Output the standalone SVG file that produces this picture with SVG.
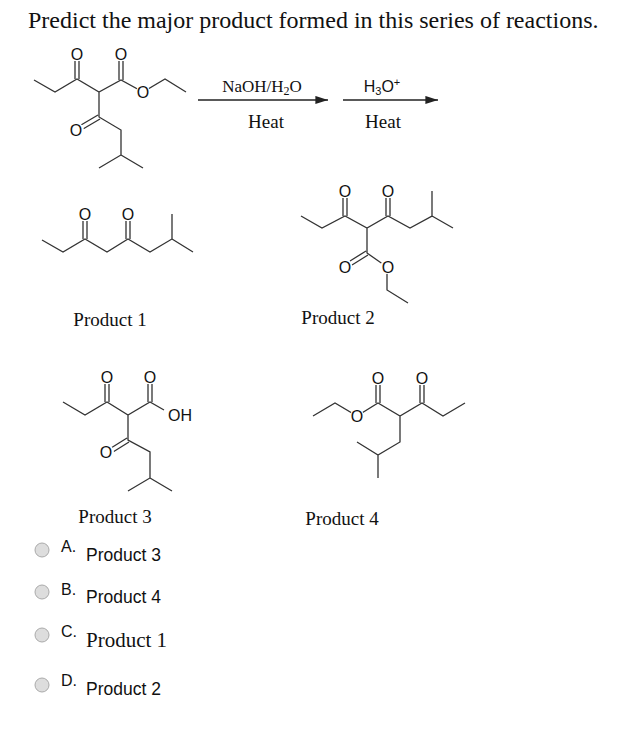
<svg xmlns="http://www.w3.org/2000/svg" width="642" height="734" viewBox="0 0 642 734">
<style>
.b{stroke:#333;stroke-width:1.3;fill:none}
.o{fill:#fff}
.a{font-family:"Liberation Sans",Arial,sans-serif;font-size:16px;fill:#111;text-anchor:middle}
.s{font-family:"Liberation Serif","Times New Roman",serif;fill:#111}
.r{font-family:"Liberation Sans",Arial,sans-serif;fill:#111}
.rad{fill:#ddd;stroke:#aaa;stroke-width:1}
</style>
<defs><marker id="ah" viewBox="0 0 14 10" refX="14" refY="5" markerWidth="14" markerHeight="9" orient="auto" markerUnits="userSpaceOnUse"><path d="M0,0.5 L14,5 L0,9.5 z" fill="#222"/></marker></defs>
<rect width="642" height="734" fill="#fff"/>
<text class="s" x="28" y="28" font-size="24">Predict the major product formed in this series of reactions.</text>

<g id="start">
<path class="b" d="M34,80 L55,92 L77,79 L99,92 L121,80 L143,92 L165,79 L186,92 M99,92 L99,117 L121,130 L121,155 L99,168 M121,155 L143,168 M75,79 L75,61 M79,79 L79,61 M119,80 L119,61 M123,80 L123,61 M98,115 L81,125 M100,119 L83,129"/>
<circle class="o" cx="143" cy="92" r="7"/><circle class="o" cx="77" cy="130" r="7"/>
<text class="a" x="77" y="60">O</text><text class="a" x="121" y="60">O</text><text class="a" x="143" y="98">O</text><text class="a" x="76" y="136">O</text>
</g>

<g id="connectors">
<line x1="198" y1="100" x2="328" y2="100" stroke="#222" stroke-width="1.5" marker-end="url(#ah)"/>
<line x1="343" y1="100" x2="438" y2="100" stroke="#222" stroke-width="1.5" marker-end="url(#ah)"/>
</g>
<g id="cond">
<text class="s" x="262" y="92" font-size="17" text-anchor="middle">NaOH/H<tspan font-size="12" dy="3">2</tspan><tspan dy="-3">O</tspan></text>
<text class="s" x="266" y="128" font-size="19" text-anchor="middle">Heat</text>
<text class="r" x="382" y="92" font-size="16" text-anchor="middle">H<tspan font-size="11" dy="3">3</tspan><tspan dy="-3">O</tspan><tspan font-size="11" dy="-6">+</tspan></text>
<text class="s" x="383" y="128" font-size="19" text-anchor="middle">Heat</text>
</g>

<g id="p1">
<path class="b" d="M42,240 L63,252 L85,239 L107,252 L128,239 L150,252 L172,239 L172,214 M172,239 L193,252 M83,239 L83,221 M87,239 L87,221 M126,239 L126,221 M130,239 L130,221"/>
<text class="a" x="85" y="220">O</text><text class="a" x="128" y="220">O</text>
<text class="s" x="110" y="326" font-size="19" text-anchor="middle">Product 1</text>
</g>

<g id="p2">
<path class="b" d="M301,216 L322,228 L345,216 L367,228 L388,216 L410,228 L432,216 L432,191 M432,216 L453,228 M367,228 L367,253 L387,267 L387,290 L408,303 M343,216 L343,198 M347,216 L347,198 M386,216 L386,198 M390,216 L390,198 M366,251 L350,261 M368,255 L352,265"/>
<circle class="o" cx="387" cy="267" r="7"/><circle class="o" cx="345" cy="267" r="7"/>
<text class="a" x="345" y="197">O</text><text class="a" x="388" y="197">O</text><text class="a" x="345" y="273">O</text><text class="a" x="388" y="273">O</text>
<text class="s" x="338" y="324" font-size="19" text-anchor="middle">Product 2</text>
</g>

<g id="p3">
<path class="b" d="M63,402 L85,415 L107,402 L128,415 L150,402 L164,410 M128,415 L128,440 L150,452 L150,478 L128,491 M150,478 L172,491 M105,402 L105,384 M109,402 L109,384 M148,402 L148,384 M152,402 L152,384 M127,438 L111,448 M129,442 L113,452"/>
<circle class="o" cx="107" cy="452" r="7"/>
<text class="a" x="107" y="383">O</text><text class="a" x="150" y="383">O</text><text class="a" x="106" y="458">O</text><text class="a" x="180" y="421">OH</text>
<text class="s" x="115" y="523" font-size="19" text-anchor="middle">Product 3</text>
</g>

<g id="p4">
<path class="b" d="M313,416 L335,403 L357,416 L378,403 L400,416 L422,403 L443,416 L465,403 M400,416 L400,442 L378,455 L357,442 M378,455 L378,478 M376,403 L376,385 M380,403 L380,385 M420,403 L420,385 M424,403 L424,385"/>
<circle class="o" cx="357" cy="416" r="7"/>
<text class="a" x="378" y="384">O</text><text class="a" x="422" y="384">O</text><text class="a" x="357" y="422">O</text>
<text class="s" x="342" y="525" font-size="19" text-anchor="middle">Product 4</text>
</g>

<g id="options">
<circle class="rad" cx="42" cy="550" r="7"/><circle class="rad" cx="42" cy="592" r="7"/><circle class="rad" cx="42" cy="635" r="7"/><circle class="rad" cx="42" cy="685" r="7"/>
<text class="r" x="61" y="552" font-size="16">A.</text><text class="r" x="86" y="561" font-size="17.5">Product 3</text>
<text class="r" x="61" y="595" font-size="16">B.</text><text class="r" x="86" y="603" font-size="17.5">Product 4</text>
<text class="r" x="61" y="637" font-size="16">C.</text><text class="s" x="86" y="647" font-size="21">Product 1</text>
<text class="r" x="61" y="686" font-size="16">D.</text><text class="r" x="86" y="695" font-size="17.5">Product 2</text>
</g>
</svg>
